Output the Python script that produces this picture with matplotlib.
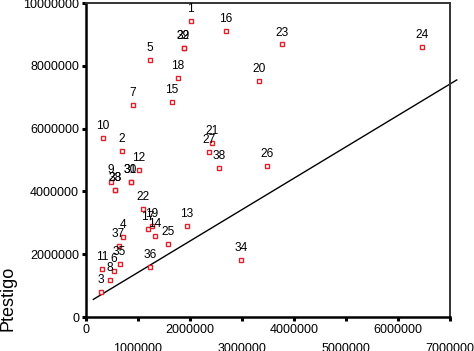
import matplotlib
matplotlib.use("Agg")
import matplotlib.pyplot as plt

plt.rcParams['font.family'] = ['Liberation Sans', 'DejaVu Sans']

labels = ['1', '2', '3', '4', '5', '6', '7', '8', '9', '10',
          '11', '12', '13', '14', '15', '16', '17', '18', '19', '20',
          '21', '22', '23', '24', '25', '26', '27', '28', '29', '30',
          '31', '32', '33', '34', '35', '36', '37', '38']
x_vals = [2015000, 685000, 282000, 710000, 1234000, 537000, 896000, 455000, 474000, 321000,
          307000, 1021000, 1939000, 1324000, 1656000, 2693000, 1190000, 1760000, 1261000, 3334000,
          2422000, 1088000, 3775000, 6463000, 1580000, 3480000, 2361000, 557000, 1875000, 858000,
          858000, 1875000, 557000, 2988000, 647000, 1234000, 628000, 2553000]
y_vals = [9420000, 5280000, 790000, 2540000, 8180000, 1460000, 6750000, 1170000, 4290000, 5700000,
          1530000, 4670000, 2890000, 2570000, 6860000, 9100000, 2810000, 7620000, 2890000, 7530000,
          5550000, 3450000, 8680000, 8610000, 2320000, 4800000, 5250000, 4040000, 8580000, 4290000,
          4290000, 8580000, 4040000, 1810000, 1700000, 1590000, 2250000, 4740000]

line_x = [140000, 7130000]
line_y = [560000, 7550000]

x_ticks_even = [0, 2000000, 4000000, 6000000]
x_ticks_odd = [1000000, 3000000, 5000000, 7000000]
y_ticks = [0, 2000000, 4000000, 6000000, 8000000, 10000000]
y_label = 'Ptestigo'

fig = plt.figure(figsize=(4.74, 3.51), dpi=100)
ax = fig.add_axes([86/474, 1-317/351, (450-86)/474, (317-3)/351])

ax.plot(line_x, line_y, color='black', lw=1.0, clip_on=False, zorder=2)
ax.plot(x_vals, y_vals, linestyle='none', marker='s', markersize=3.3,
        markerfacecolor='white', markeredgecolor='#e0202a', markeredgewidth=1.0,
        clip_on=False, zorder=3)
for lab, xv, yv in zip(labels, x_vals, y_vals):
    ax.annotate(lab, (xv, yv), xytext=(0, 8.6), textcoords='offset points',
                ha='center', va='center', fontsize=8.6, color='black', zorder=4,
                annotation_clip=False)

ax.set_xlim(0, 7000000)
ax.set_ylim(0, 10000000)

ax.set_xticks(x_ticks_even)
ax.set_xticklabels([str(v) for v in x_ticks_even])
ax.set_xticks(x_ticks_odd, minor=True)
ax.set_xticklabels([str(v) for v in x_ticks_odd], minor=True)
ax.set_yticks(y_ticks)
ax.set_yticklabels([str(v) for v in y_ticks])

ax.tick_params(axis='both', which='both', direction='out', length=3, width=2.2,
               labelsize=9, colors='black')
ax.tick_params(axis='x', which='major', pad=2)
ax.tick_params(axis='x', which='minor', pad=16)
ax.tick_params(axis='y', which='major', pad=2)

for side in ['left', 'bottom']:
    ax.spines[side].set_linewidth(1.8)
    ax.spines[side].set_color('black')
for side in ['top', 'right']:
    ax.spines[side].set_linewidth(1.4)
    ax.spines[side].set_color('#333333')

fig.text(8/474, 1-298/351, y_label, rotation=90, ha='center', va='center',
         fontsize=13, color='black')

fig.savefig('out.png', dpi=100)
